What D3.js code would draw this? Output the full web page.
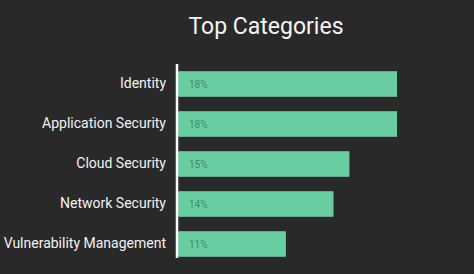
<!DOCTYPE html>
<html>
<head>
<meta charset="utf-8">
<script src="https://cdn.jsdelivr.net/npm/d3@7"></script>
<style>
  html, body { margin: 0; padding: 0; background: #2a2929; }
  svg { display: block; font-family: Roboto, "Noto Sans", sans-serif; }
</style>
</head>
<body>
<svg id="chart" width="474" height="274"></svg>
<script>
// data
var categories = ["Identity", "Application Security", "Cloud Security", "Network Security", "Vulnerability Management"];
var shares = [18, 18, 15, 14, 11];
var tickLabels = ["18%", "18%", "15%", "14%", "11%"];

var svg = d3.select("#chart");

svg.append("rect")
    .attr("width", 474)
    .attr("height", 274)
    .attr("fill", "#2a2929");

// x does not start at zero in the original
var x = d3.scaleLinear().domain([4.2, 18]).range([178, 397]);
var y = d3.scaleBand().domain(categories).range([64, 264]).paddingInner(0.36).paddingOuter(0.18);

// title
svg.append("text")
    .attr("x", 266)
    .attr("y", 34)
    .attr("text-anchor", "middle")
    .attr("fill", "#f4f4f4")
    .style("font-size", "23px")
    .text("Top Categories");

// bars
svg.append("g")
    .selectAll("rect")
    .data(categories)
    .enter()
    .append("rect")
    .attr("x", x(4.2))
    .attr("y", function(d) { return y(d); })
    .attr("width", function(d, i) { return x(shares[i]) - x(4.2); })
    .attr("height", y.bandwidth())
    .attr("fill", "#69cda2");

// value labels inside bars
svg.append("g")
    .selectAll("text")
    .data(categories)
    .enter()
    .append("text")
    .attr("x", x(4.2) + 11)
    .attr("y", function(d) { return y(d) + y.bandwidth() / 2; })
    .attr("dy", "0.35em")
    .attr("fill", "#3f8c68")
    .style("font-size", "10px")
    .text(function(d, i) { return tickLabels[i]; });

// left axis
var axis = svg.append("g")
    .attr("transform", "translate(177,0)")
    .call(d3.axisLeft(y).tickSize(0).tickPadding(11));

axis.select(".domain")
    .attr("stroke", "#ffffff")
    .attr("stroke-width", 2.5)
    .attr("d", "M0,64V258");

axis.selectAll("text")
    .attr("fill", "#f2f2f2")
    .style("font-size", "14px")
    .style("font-family", "Roboto, sans-serif");
</script>
</body>
</html>
